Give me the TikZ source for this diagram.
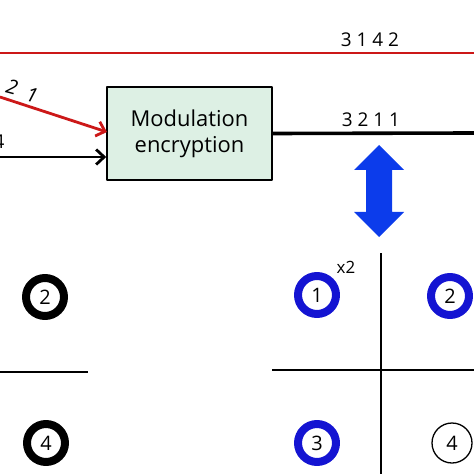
\documentclass[tikz,border=0pt]{standalone}
\usepackage{fontspec}
\setmainfont{Open Sans}
\usetikzlibrary{arrows.meta}
\definecolor{boxgreen}{RGB}{221,240,228}
\definecolor{seqred}{RGB}{204,24,24}
\definecolor{ringblue}{RGB}{20,20,210}
\definecolor{arrowblue}{RGB}{12,60,235}
\tikzset{
  seqlabel/.style={font=\fontsize{19}{22}\selectfont, inner sep=0pt},
  ring/.style={circle, draw, line width=8bp, minimum size=38bp, inner sep=0pt, font=\fontsize{20}{22}\selectfont},
  thinring/.style={circle, draw, line width=1.3bp, minimum size=40bp, inner sep=0pt, font=\fontsize{20}{22}\selectfont},
}
\begin{document}
\begin{tikzpicture}[>={Straight Barb[length=8bp,width=15bp]}, x=1bp, y=-1bp, line join=bevel]
\useasboundingbox (0,0) rectangle (474,474);
%%
\node (mod_box) at (189.5,133.5) [draw, line width=1.6bp, fill=boxgreen, minimum width=165bp, minimum height=93bp, align=center, font=\fontsize{22}{26}\selectfont] {Modulation\\encryption};
  \coordinate (top_l) at (0,53);
  \coordinate (top_r) at (474,53);
  \coordinate (red_in) at (0,97);
  \coordinate (red_tip) at (107,132);
  \coordinate (blk_in) at (0,157);
  \coordinate (out_r) at (474,133);
  \node (lbl_top) at (370,40) [seqlabel] {3 1 4 2};
  \node (lbl_out) at (371,120) [seqlabel] {3 2 1 1};
  \node (lbl_four) at (-1,142) [seqlabel] {4};
  \node (lbl_two) at (12,87) [seqlabel, font=\fontsize{20}{22}\selectfont\itshape, rotate=-15] {2};
  \node (lbl_one) at (32,95) [seqlabel, font=\fontsize{20}{22}\selectfont\itshape, rotate=-15] {1};
  \draw [seqred, line width=2.8bp] (top_l) -- (top_r);
  \draw [seqred, line width=2.8bp, ->] (red_in) -- (red_tip);
  \draw [black, line width=2.8bp, ->] (blk_in) -- (blk_in -| mod_box.west);
  \draw [black, line width=3.6bp] (mod_box.east) -- (out_r);
%
\fill [arrowblue] (379,145) -- (404,170) -- (392,170) -- (392,212) -- (404,212) -- (379,237)
  -- (354,212) -- (366,212) -- (366,170) -- (354,170) -- cycle;
%
\draw [line width=1.8bp] (0,372) -- (88,372);
  \node (left_two) at (45,297) [ring] {2};
  \node (left_four) at (46,443) [ring] {4};
%
\draw [line width=1.8bp] (381,253) -- (381,474);
  \draw [line width=1.8bp] (272,370) -- (474,370);
  \node (right_one) at (317,295) [ring, ringblue, text=black] {1};
  \node (right_two) at (450,296) [ring, ringblue, text=black] {2};
  \node (right_three) at (317,443) [ring, ringblue, text=black] {3};
  \node (right_four) at (452,443) [thinring] {4};
  \node (lbl_times) at (346,267) [seqlabel, font=\fontsize{17}{19}\selectfont] {x2};
%
\end{tikzpicture}
\end{document}
